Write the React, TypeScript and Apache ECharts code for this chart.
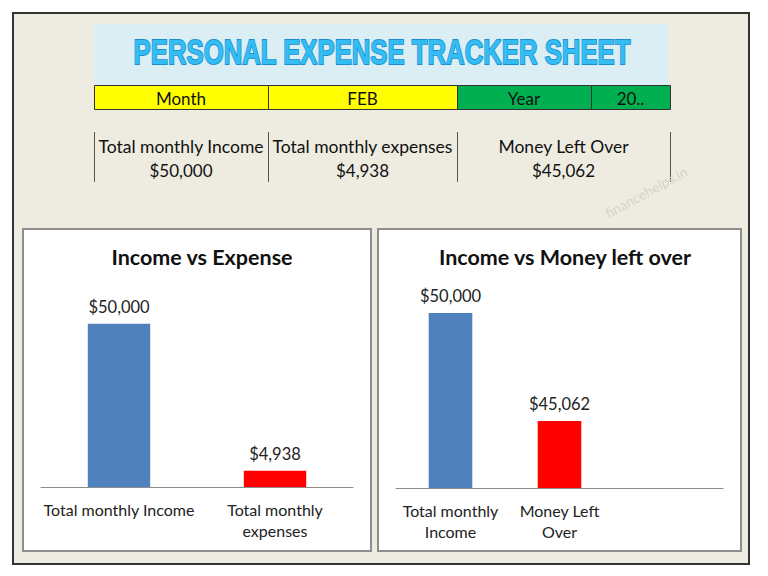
import React, { useEffect, useRef } from "react";
import * as echarts from "echarts";

const sheetTitle = "PERSONAL EXPENSE TRACKER SHEET";
const headerCells = ["Month", "FEB", "Year", "20.."];
const summaryLabels = ["Total monthly Income", "Total monthly expenses", "Money Left Over"];
const summaryValues = [50000, 4938, 45062];

const chart1Title = "Income vs Expense";
const chart1Categories = ["Total monthly Income", "Total monthly expenses"];
const chart1Values = [50000, 4938];

const chart2Title = "Income vs Money left over";
const chart2Categories = ["Total monthly Income", "Money Left Over", ""];
const chart2Values = [50000, 45062];

const barColors = ["#4F81BD", "#FF0000"];

const FONT = "Lato, 'Noto Sans', sans-serif";

const money = (v: number) => "$" + v.toLocaleString("en-US");

const wrap1: Record<string, string> = {
  "Total monthly Income": "Total monthly Income",
  "Total monthly expenses": "Total monthly\nexpenses",
};
const wrap2: Record<string, string> = {
  "Total monthly Income": "Total monthly\nIncome",
  "Money Left Over": "Money Left\nOver",
  "": "",
};

export default function App() {
  const ref = useRef<HTMLDivElement>(null);
  useEffect(() => {
    if (!ref.current) return;
    const chart = echarts.init(ref.current, undefined, { renderer: "svg" });

    const cellX = [94, 268, 457, 591, 670];
    const cellFill = ["#FFFF00", "#FFFF00", "#00B050", "#00B050"];
    const sumX = [94, 268, 457, 670];

    const graphics: any[] = [
      {
        type: "rect",
        z: -10,
        shape: { x: 13, y: 13, width: 736, height: 551 },
        style: { fill: "#EEECE1", stroke: "#333333", lineWidth: 2 },
      },
      {
        type: "rect",
        z: -9,
        shape: { x: 94, y: 24, width: 574, height: 61 },
        style: { fill: "#DAEEF3" },
      },
      {
        type: "text",
        z: -8,
        x: 382,
        y: 52,
        scaleX: 0.735,
        style: {
          text: sheetTitle,
          font: "bold 35px 'Liberation Sans', Arial, sans-serif",
          fill: "#33BDF2",
          stroke: "#1B8ED2",
          lineWidth: 1.8,
          textAlign: "center",
          textVerticalAlign: "middle",
          shadowColor: "rgba(60,170,230,0.6)",
          shadowBlur: 4,
        },
      },
    ];

    headerCells.forEach((t, i) => {
      graphics.push({
        type: "rect",
        z: -8,
        shape: { x: cellX[i] + 0.5, y: 85.5, width: cellX[i + 1] - cellX[i], height: 24 },
        style: { fill: cellFill[i], stroke: "#333333", lineWidth: 1 },
      });
      graphics.push({
        type: "text",
        z: -7,
        x: (cellX[i] + cellX[i + 1]) / 2,
        y: 98,
        style: {
          text: t,
          font: "17px " + FONT,
          fill: "#111",
          textAlign: "center",
          textVerticalAlign: "middle",
        },
      });
    });

    sumX.forEach((x) => {
      graphics.push({
        type: "line",
        z: -8,
        shape: { x1: x + 0.5, y1: 132, x2: x + 0.5, y2: 182 },
        style: { stroke: "#555555", lineWidth: 1 },
      });
    });

    summaryLabels.forEach((t, i) => {
      const cx = (sumX[i] + sumX[i + 1]) / 2;
      graphics.push({
        type: "text",
        z: -7,
        x: cx,
        y: 146,
        style: { text: t, font: "17.5px " + FONT, fill: "#111", textAlign: "center", textVerticalAlign: "middle" },
      });
      graphics.push({
        type: "text",
        z: -7,
        x: cx,
        y: 170,
        style: { text: money(summaryValues[i]), font: "17px " + FONT, fill: "#111", textAlign: "center", textVerticalAlign: "middle" },
      });
    });

    graphics.push({
      type: "text",
      z: -7,
      x: 646,
      y: 192,
      rotation: 0.5,
      style: {
        text: "financehelps.in",
        font: "14px " + FONT,
        fill: "#D6D4CA",
        textAlign: "center",
        textVerticalAlign: "middle",
      },
    });

    graphics.push({
      type: "rect",
      z: -6,
      shape: { x: 23, y: 229, width: 348, height: 322 },
      style: { fill: "#FFFFFF", stroke: "#8E8E8E", lineWidth: 2 },
    });
    graphics.push({
      type: "rect",
      z: -6,
      shape: { x: 378, y: 229, width: 363, height: 322 },
      style: { fill: "#FFFFFF", stroke: "#8E8E8E", lineWidth: 2 },
    });

    const labelStyle = {
      show: true,
      position: "top" as const,
      distance: 8,
      fontFamily: FONT,
      fontSize: 16.5,
      color: "#222",
      formatter: (p: any) => money(p.value),
    };

    const axisLabelBase = {
      fontFamily: FONT,
      fontSize: 16,
      color: "#222",
      margin: 12,
      lineHeight: 21,
      interval: 0,
    };

    chart.setOption({
      animation: false,
      graphic: { elements: graphics },
      title: [
        {
          text: chart1Title,
          left: 197,
          top: 241,
          textAlign: "center",
          textStyle: { fontFamily: FONT, fontSize: 21.5, fontWeight: "bold", color: "#111" },
        },
        {
          text: chart2Title,
          left: 560,
          top: 241,
          textAlign: "center",
          textStyle: { fontFamily: FONT, fontSize: 21.5, fontWeight: "bold", color: "#111" },
        },
      ],
      grid: [
        { left: 41, right: 768 - 353, top: 291, bottom: 576 - 487 },
        { left: 396, right: 768 - 723, top: 291, bottom: 576 - 488 },
      ],
      xAxis: [
        {
          type: "category",
          gridIndex: 0,
          data: chart1Categories,
          axisLine: { lineStyle: { color: "#8C8C8C", width: 1 } },
          axisTick: { show: false },
          axisLabel: { ...axisLabelBase, formatter: (v: string) => wrap1[v] ?? v },
        },
        {
          type: "category",
          gridIndex: 1,
          data: chart2Categories,
          axisLine: { lineStyle: { color: "#8C8C8C", width: 1 } },
          axisTick: { show: false },
          axisLabel: { ...axisLabelBase, formatter: (v: string) => wrap2[v] ?? v },
        },
      ],
      yAxis: [
        { type: "value", gridIndex: 0, min: 0, max: 60000, show: false, splitLine: { show: false } },
        { type: "value", gridIndex: 1, min: 42000, max: 51000, show: false, splitLine: { show: false } },
      ],
      series: [
        {
          type: "bar",
          xAxisIndex: 0,
          yAxisIndex: 0,
          barWidth: "40%",
          data: chart1Values.map((v, i) => ({ value: v, itemStyle: { color: barColors[i] } })),
          label: labelStyle,
        },
        {
          type: "bar",
          xAxisIndex: 1,
          yAxisIndex: 1,
          barWidth: "40%",
          data: chart2Values.map((v, i) => ({ value: v, itemStyle: { color: barColors[i] } })),
          label: labelStyle,
        },
      ],
    });
    return () => chart.dispose();
  }, []);

  return (
    <div
      ref={ref}
      style={{ position: "fixed", left: 0, top: 0, width: 768, height: 576, background: "#FFFFFF" }}
    />
  );
}
